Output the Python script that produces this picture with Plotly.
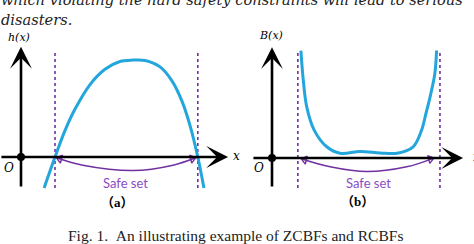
import plotly.graph_objects as go

W, H = 474, 244
UNIT = 34.0                      # pixels per unit on both panels
ORIGIN_A = (21, 157)             # pixel position of O in panel (a)
ORIGIN_B = (272, 158)            # pixel position of O in panel (b)

# Panel (a): zeroing control barrier function h(x)
h_x = [0.68, 1.0, 1.29, 1.59, 2.03, 2.47, 2.91, 3.29, 3.65, 4.09, 4.44, 4.74, 4.97, 5.2, 5.38]
h_y = [-0.91, 0.0, 0.77, 1.41, 2.13, 2.58, 2.81, 2.85, 2.84, 2.65, 2.24, 1.63, 0.93, 0.0, -0.91]

# Panel (b): reciprocal control barrier function B(x)
B_x = [0.85, 0.92, 1.02, 1.24, 1.61, 2.0, 2.59, 3.18, 3.68, 4.15, 4.40, 4.53, 4.65, 4.79, 4.84]
B_y = [3.16, 2.29, 1.51, 0.82, 0.33, 0.14, 0.19, 0.15, 0.14, 0.33, 0.82, 1.32, 1.80, 2.49, 3.16]

# Boundaries of the safe set
a_bounds = [1.0, 5.2]
b_bounds = [0.76, 4.94]

# Curved double arrows marking the safe set
arc_a_x = [1.06, 1.82, 3.29, 4.47, 5.12]
arc_a_y = [-0.03, -0.24, -0.40, -0.24, -0.03]
arc_b_x = [0.88, 1.71, 2.79, 3.96, 4.74]
arc_b_y = [-0.03, -0.26, -0.40, -0.26, -0.01]

# Extent of the drawn coordinate axes (x_min, x_max, y_min, y_max)
axes_a = (-0.62, 6.09, -0.91, 3.24)
axes_b = (-0.59, 5.62, -0.88, 3.26)
# vertical extent of the dotted boundary lines
dash_a = (-0.91, 3.06)
dash_b = (-0.88, 3.12)

BLUE = "#22a6dc"
PURPLE = "#7030a0"
SAFE_TXT = "#8a4cc4"
SERIF = "Liberation Serif"
ITALIC_SERIF = "DejaVu Serif"


def px(x):
    return x / W


def py(y):
    return 1 - y / H


def axis_range(origin):
    ox, oy = origin
    return [-ox / UNIT, (W - ox) / UNIT], [(oy - H) / UNIT, oy / UNIT]


fig = go.Figure()


def add_panel(xr, yr, fx, fy, bounds, dash, arc_x, arc_y, axes_ext):
    # dotted boundaries of the safe set
    fig.add_trace(go.Scatter(
        x=[bounds[0], bounds[0], None, bounds[1], bounds[1]],
        y=[dash[0], dash[1], None, dash[0], dash[1]],
        mode="lines", line=dict(color=PURPLE, width=1.6, dash="dot"),
        xaxis=xr, yaxis=yr, hoverinfo="skip"))
    # barrier function curve
    fig.add_trace(go.Scatter(
        x=fx, y=fy, mode="lines",
        line=dict(color=BLUE, width=3, shape="spline", smoothing=1),
        xaxis=xr, yaxis=yr, hoverinfo="skip"))
    # safe-set arc
    fig.add_trace(go.Scatter(
        x=arc_x, y=arc_y, mode="lines",
        line=dict(color=PURPLE, width=1.5, shape="spline", smoothing=1),
        xaxis=xr, yaxis=yr, hoverinfo="skip"))
    fig.add_trace(go.Scatter(
        x=[arc_x[0] + 0.08, arc_x[-1] - 0.08], y=[arc_y[0] - 0.02, arc_y[-1] - 0.02],
        mode="markers",
        marker=dict(symbol=["triangle-left-open", "triangle-right-open"],
                    angle=[15, -15], size=7, color=PURPLE,
                    line=dict(color=PURPLE, width=1.4)),
        xaxis=xr, yaxis=yr, hoverinfo="skip"))
    # origin dot
    fig.add_trace(go.Scatter(
        x=[0], y=[0], mode="markers", marker=dict(color="black", size=8),
        xaxis=xr, yaxis=yr, hoverinfo="skip"))
    # coordinate axes with arrow heads
    x0, x1, y0, y1 = axes_ext
    for (tx, ty, sx, sy) in [(x1, 0, x0, 0), (0, y1, 0, y0)]:
        fig.add_annotation(
            x=tx, y=ty, ax=sx, ay=sy, xref=xr, yref=yr, axref=xr, ayref=yr,
            text="", showarrow=True, arrowhead=3, arrowsize=1.4,
            arrowwidth=2.6, arrowcolor="black", standoff=0)


add_panel("x", "y", h_x, h_y, a_bounds, dash_a, arc_a_x, arc_a_y, axes_a)
add_panel("x2", "y2", B_x, B_y, b_bounds, dash_b, arc_b_x, arc_b_y, axes_b)

xa, ya = axis_range(ORIGIN_A)
xb, yb = axis_range(ORIGIN_B)
hidden = dict(visible=False, showgrid=False, zeroline=False, fixedrange=True)


def label(text, x, y, size, family=SERIF, color="black", italic=False, bold=False,
          xanchor="center"):
    fig.add_annotation(x=px(x), y=py(y), xref="paper", yref="paper", text=text,
                       showarrow=False, xanchor=xanchor, yanchor="middle",
                       font=dict(family=family, size=size, color=color,
                                 style="italic" if italic else "normal",
                                 weight="bold" if bold else "normal"))


# surrounding paragraph text
label("which violating the hard safety constraints will lead to serious", -1, -1, 14.6,
      family=ITALIC_SERIF, italic=True, color="#222222", xanchor="left")
label("disasters.", -1, 20, 14.6, family=ITALIC_SERIF, italic=True, color="#222222",
      xanchor="left")

# axis labels
label("h(x)", 19, 37, 11, family=ITALIC_SERIF, italic=True)
label("B(x)", 271, 36, 11, family=ITALIC_SERIF, italic=True)
label("x", 236, 156, 12, family=ITALIC_SERIF, italic=True)
label("x", 471, 157, 12, family=ITALIC_SERIF, italic=True, xanchor="left")
label("O", 9, 168, 12, family=ITALIC_SERIF, italic=True)
label("O", 259, 168, 12, family=ITALIC_SERIF, italic=True)

# safe set captions
label("Safe set", 126, 183, 13, family="Lato", color=SAFE_TXT)
label("Safe set", 368, 183, 13, family="Lato", color=SAFE_TXT)
label("（a）", 117, 202, 13, family="Liberation Serif, Noto Sans CJK SC", bold=True)
label("（b）", 357, 201, 13, family="Liberation Serif, Noto Sans CJK SC", bold=True)

# figure caption
label("Fig. 1.\u00a0\u00a0An illustrating example of ZCBFs and RCBFs", 235, 235, 15.5,
      color="#222222")

fig.update_layout(
    width=W, height=H, margin=dict(l=0, r=0, t=0, b=0),
    paper_bgcolor="white", plot_bgcolor="white", showlegend=False,
    xaxis=dict(range=xa, domain=[0, 1], **hidden),
    yaxis=dict(range=ya, domain=[0, 1], **hidden),
    xaxis2=dict(range=xb, domain=[0, 1], overlaying="x", anchor="y2", **hidden),
    yaxis2=dict(range=yb, domain=[0, 1], overlaying="y", anchor="x2", **hidden),
)

fig.write_html("out.html", config={"displayModeBar": False})
